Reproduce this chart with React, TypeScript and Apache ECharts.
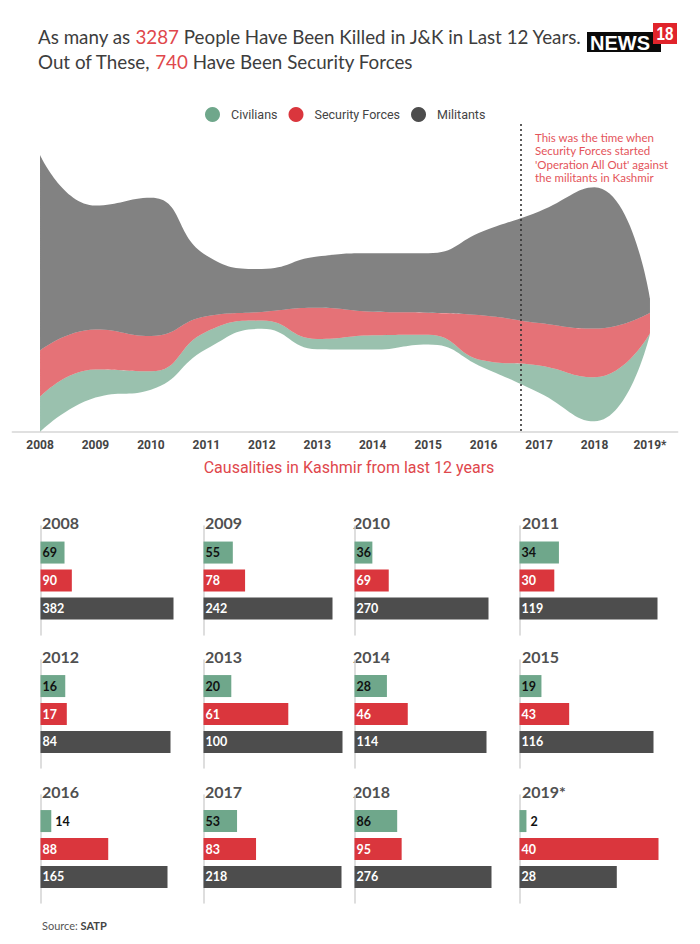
import React, { useEffect, useRef } from 'react';
import * as echarts from 'echarts';

// Yearly fatalities in Jammu & Kashmir (SATP)
const YEARS = ['2008', '2009', '2010', '2011', '2012', '2013', '2014', '2015', '2016', '2017', '2018', '2019*'];
const CIVILIANS = [69, 55, 36, 34, 16, 20, 28, 19, 14, 53, 86, 2];
const SECURITY_FORCES = [90, 78, 69, 30, 17, 61, 46, 43, 88, 83, 95, 40];
const MILITANTS = [382, 242, 270, 119, 84, 100, 114, 116, 165, 218, 276, 28];
const SERIES_NAMES = ['Civilians', 'Security Forces', 'Militants'];

// Position (in year units) where 'Operation All Out' began
const OPERATION_ALL_OUT = 2016.67;

// Palette
const GREEN = '#6fa78b';
const RED = '#da363d';
const DARK = '#4d4d4d';
const SERIES_COLORS = [GREEN, RED, DARK];
const ACCENT = '#e0474c';

// Small-multiple layout
const PANEL_COL_X = [40.5, 203.5, 354.5, 519.5];
const PANEL_TITLE_X = [42, 205, 353, 522];
const PANEL_ROW_TOP = [526, 660, 795];
const PANEL_ROW_HEIGHT = [109, 108, 108];
const PANEL_BAR_SPAN = [133, 129, 134, 138, 130, 139, 132, 134, 127, 138, 137, 139];

// Streamgraph baseline that minimises weighted wiggle (Byron & Wattenberg)
function wiggleBaseline(layers: number[][]): number[] {
  const m = layers[0].length;
  const base = [0];
  let y = 0;
  for (let j = 1; j < m; j++) {
    let s1 = 0;
    let s2 = 0;
    for (let i = 0; i < layers.length; i++) {
      const cur = layers[i][j];
      const prev = layers[i][j - 1];
      let s3 = (cur - prev) / 2;
      for (let k = 0; k < i; k++) s3 += layers[k][j] - layers[k][j - 1];
      s1 += cur;
      s2 += s3 * cur;
    }
    if (s1) y -= s2 / s1;
    base.push(y);
  }
  const lo = Math.min(...base);
  return base.map((b) => b - lo);
}

export default function App() {
  const ref = useRef<HTMLDivElement>(null);

  useEffect(() => {
    const chart = echarts.init(ref.current!, null, { renderer: 'svg' });

    const layers = [CIVILIANS, SECURITY_FORCES, MILITANTS];
    const baseline = wiggleBaseline(layers);
    const tops = baseline.map((b, j) => b + layers.reduce((s, l) => s + l[j], 0));
    const streamMax = Math.max(...tops);

    const grids: any[] = [{ left: 12.3, width: 665.4, top: 155, height: 277 }];
    const xAxes: any[] = [
      {
        type: 'category',
        gridIndex: 0,
        data: YEARS,
        boundaryGap: true,
        axisLine: { lineStyle: { color: '#d6d6d6', width: 1.5 } },
        axisTick: { show: false },
        axisLabel: {
          fontFamily: 'Roboto',
          fontWeight: 'bold',
          fontSize: 12,
          color: '#444',
          margin: 7,
        },
      },
      { type: 'value', gridIndex: 0, min: 2007.5, max: 2019.5, show: false },
    ];
    const yAxes: any[] = [{ type: 'value', gridIndex: 0, min: 0, max: streamMax, show: false }];

    const series: any[] = [];
    series.push({
      type: 'line',
      name: 'base',
      stack: 'river',
      data: baseline,
      symbol: 'none',
      smooth: true,
      silent: true,
      lineStyle: { width: 0, opacity: 0 },
    });
    layers.forEach((layer, i) => {
      series.push({
        type: 'line',
        name: SERIES_NAMES[i],
        stack: 'river',
        data: layer,
        symbol: 'none',
        smooth: true,
        color: SERIES_COLORS[i],
        lineStyle: { width: 0, color: SERIES_COLORS[i] },
        areaStyle: { color: SERIES_COLORS[i], opacity: 0.7 },
      });
    });
    series.push({
      type: 'line',
      name: 'operation',
      xAxisIndex: 1,
      yAxisIndex: 0,
      data: [],
      markLine: {
        silent: true,
        symbol: 'none',
        label: { show: false },
        lineStyle: { color: '#333', type: [2, 3], width: 1.6 },
        data: [[{ coord: [OPERATION_ALL_OUT, 0], y: 124 }, { coord: [OPERATION_ALL_OUT, 0] }]],
      },
    });

    const graphics: any[] = [];

    YEARS.forEach((yr, p) => {
      const col = p % 4;
      const row = Math.floor(p / 4);
      const gi = p + 1;
      const span = PANEL_BAR_SPAN[p];
      grids.push({ left: PANEL_COL_X[col], top: PANEL_ROW_TOP[row], width: span, height: PANEL_ROW_HEIGHT[row] });
      const vals = [CIVILIANS[p], SECURITY_FORCES[p], MILITANTS[p]];
      const max = Math.max(...vals);
      xAxes.push({ type: 'value', gridIndex: gi, min: 0, max, show: false });
      yAxes.push({
        type: 'category',
        gridIndex: gi,
        data: [yr],
        inverse: true,
        axisLine: { show: true, lineStyle: { color: '#d3d3d3', width: 1.5 } },
        axisTick: { show: false },
        axisLabel: { show: false },
        splitLine: { show: false },
      });
      vals.forEach((v, i) => {
        const outside = (v / max) * span < 14;
        series.push({
          type: 'bar',
          name: SERIES_NAMES[i],
          xAxisIndex: p + 2,
          yAxisIndex: gi,
          barWidth: 22,
          barGap: '27%',
          itemStyle: { color: SERIES_COLORS[i] },
          label: {
            show: true,
            position: 'insideLeft',
            distance: 2,
            fontFamily: 'Lato',
            fontWeight: 'bold',
            fontSize: 12.5,
            color: i === 0 ? '#111' : '#fff',
          },
          data: [
            outside
              ? { value: v, label: { position: 'right', distance: 4, color: '#111' } }
              : v,
          ],
        });
      });
      graphics.push({
        type: 'text',
        x: PANEL_TITLE_X[col],
        y: PANEL_ROW_TOP[row] - 3.5,
        style: {
          text: yr,
          fontFamily: 'Lato',
          fontWeight: 'bold',
          fontSize: 16,
          fill: '#505050',
          verticalAlign: 'middle',
        },
      });
    });

    // NEWS18 mark
    graphics.push({
      type: 'group',
      children: [
        { type: 'rect', shape: { x: 587, y: 32, width: 74, height: 20 }, style: { fill: '#0a0a0a' } },
        {
          type: 'text',
          x: 590,
          y: 42.5,
          style: {
            text: 'NEWS',
            fontFamily: 'Liberation Sans',
            fontWeight: 'bold',
            fontSize: 20,
            fill: '#fff',
            verticalAlign: 'middle',
          },
        },
        { type: 'rect', shape: { x: 653, y: 23, width: 24, height: 21 }, style: { fill: '#e0242b' } },
        {
          type: 'text',
          x: 665,
          y: 33.5,
          scaleX: 0.8,
          style: {
            text: '18',
            fontFamily: 'Liberation Sans',
            fontWeight: 'bold',
            fontSize: 19,
            fill: '#fff',
            align: 'center',
            verticalAlign: 'middle',
          },
        },
      ],
    });

    // Annotation beside the dotted marker
    graphics.push({
      type: 'text',
      x: 535,
      y: 131,
      style: {
        text: "This was the time when\nSecurity Forces started\n'Operation All Out' against\nthe militants in Kashmir",
        fontFamily: 'Lato',
        fontSize: 11.5,
        lineHeight: 13.3,
        fill: '#e4545a',
        verticalAlign: 'top',
      },
    });

    // Caption under the stream
    graphics.push({
      type: 'text',
      x: 349,
      y: 467,
      style: {
        text: 'Causalities in Kashmir from last 12 years',
        fontFamily: 'Roboto',
        fontSize: 16,
        fill: ACCENT,
        align: 'center',
        verticalAlign: 'middle',
      },
    });

    // Source line
    graphics.push({
      type: 'text',
      x: 42,
      y: 925,
      style: {
        text: 'Source: {b|SATP}',
        fontFamily: 'Lato',
        fontSize: 11,
        fill: '#555',
        verticalAlign: 'middle',
        rich: { b: { fontFamily: 'Lato', fontSize: 11, fontWeight: 'bold', fill: '#444' } },
      },
    });

    chart.setOption({
      animation: false,
      title: {
        left: 38,
        top: 24,
        padding: 0,
        text: 'As many as {r|3287} People Have Been Killed in J&K in Last 12 Years.\nOut of These, {r|740} Have Been Security Forces',
        textStyle: {
          fontFamily: 'Lato',
          fontSize: 18.8,
          fontWeight: 'normal',
          color: '#3d3d3d',
          lineHeight: 25,
          rich: { r: { fontFamily: 'Lato', fontSize: 18.8, color: ACCENT, lineHeight: 25 } },
        },
      },
      legend: {
        left: 205,
        top: 107,
        padding: 0,
        icon: 'circle',
        itemWidth: 15,
        itemHeight: 15,
        itemGap: 11,
        selectedMode: false,
        data: SERIES_NAMES.map((n, i) => ({ name: n, itemStyle: { color: SERIES_COLORS[i], opacity: 1 } })),
        textStyle: { fontFamily: 'Roboto', fontSize: 12.5, color: '#444', padding: [0, 0, 0, 6] },
      },
      grid: grids,
      xAxis: xAxes,
      yAxis: yAxes,
      series,
      graphic: graphics,
    });

    return () => chart.dispose();
  }, []);

  return <div ref={ref} style={{ position: 'absolute', left: 0, top: 0, width: 700, height: 944 }} />;
}
